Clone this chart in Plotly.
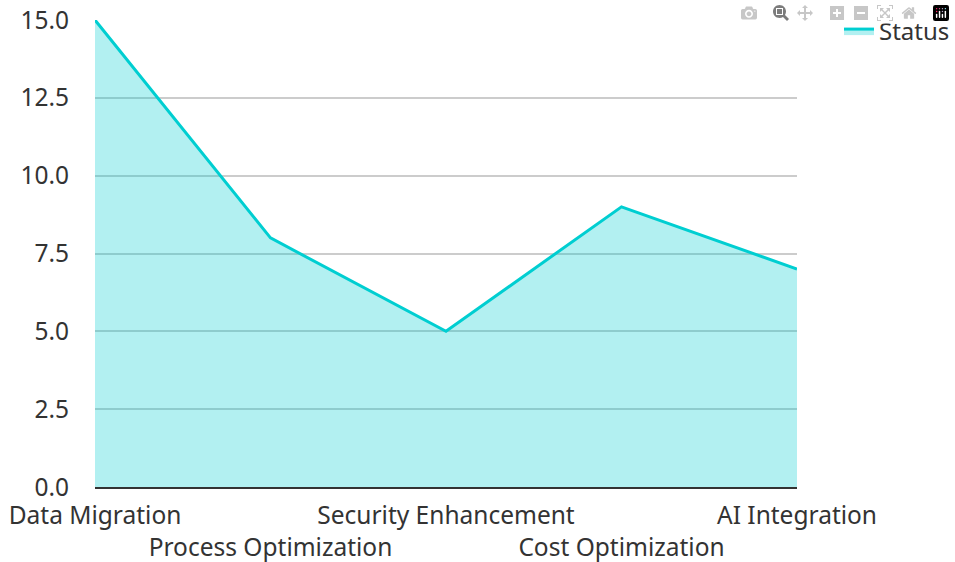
import plotly.graph_objects as go

categories = ["Data Migration", "Process Optimization", "Security Enhancement", "Cost Optimization", "AI Integration"]
values = [15, 8, 5, 9, 7]
tick_vals = [0, 2.5, 5, 7.5, 10, 12.5, 15]
tick_text = ["0.0", "2.5", "5.0", "7.5", "10.0", "12.5", "15.0"]

x_labels = [c if i % 2 == 0 else "<br>" + c for i, c in enumerate(categories)]

fig = go.Figure()
fig.add_trace(go.Scatter(
    x=categories, y=values, mode="lines", name="Status",
    line=dict(color="#00CED1", width=3),
    fill="tozeroy", fillcolor="rgba(0,206,209,0.3)",
))

fig.update_layout(
    width=955, height=562,
    margin=dict(l=95, r=158, t=20, b=75),
    paper_bgcolor="white", plot_bgcolor="white",
    font=dict(family="Noto Sans", size=24.5, color="#333333"),
    showlegend=True,
    legend=dict(x=839 / 955, y=0.984, xref="container", yref="container",
                xanchor="left", yanchor="top", font=dict(size=24)),
    xaxis=dict(
        tickmode="array", tickvals=categories, ticktext=x_labels,
        showgrid=False, showline=True, linecolor="#333333", linewidth=2,
        ticks="", range=[0, 4], zeroline=False, tickangle=0, automargin=False,
        ticklabelstandoff=6, ticklabeloverflow="allow",
    ),
    yaxis=dict(
        range=[0, 15], tickmode="array", tickvals=tick_vals, ticktext=tick_text,
        showgrid=True, gridcolor="#cccccc", gridwidth=1.5, zeroline=False,
        showline=False, ticks="", ticklabelstandoff=25, automargin=False,
        ticklabeloverflow="allow",
    ),
)

fig.write_html(
    "out.html",
    post_script="document.body.style.margin='0';document.body.style.overflow='hidden';",
)
